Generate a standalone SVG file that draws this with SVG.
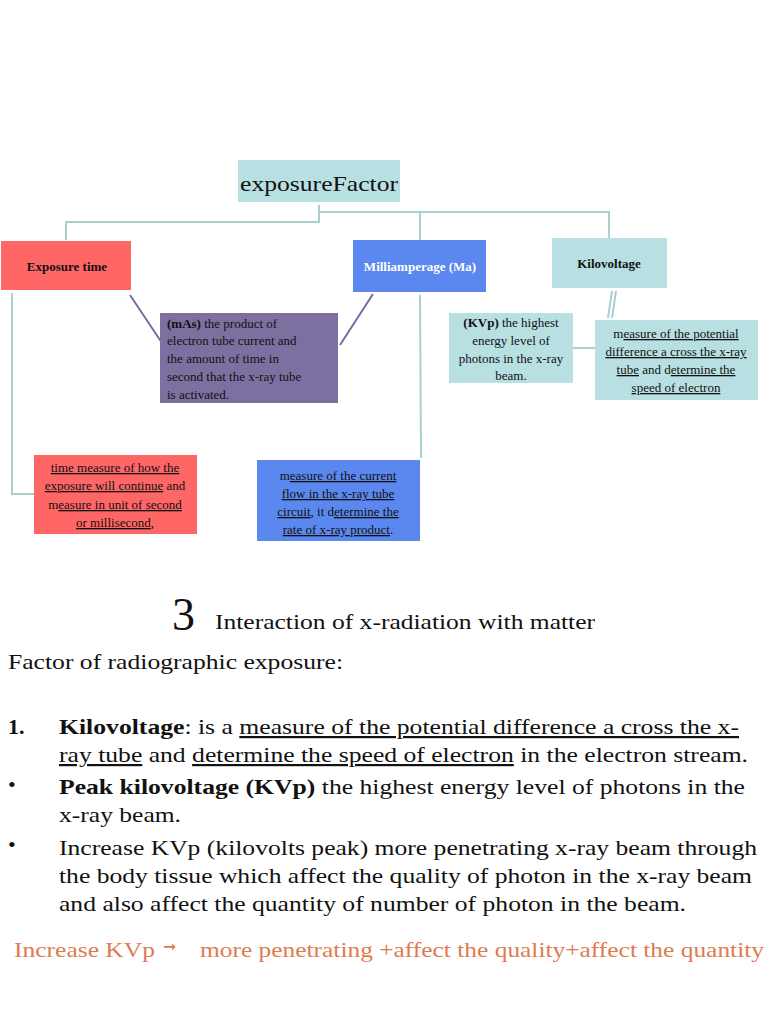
<svg xmlns="http://www.w3.org/2000/svg" width="768" height="1024" viewBox="0 0 768 1024">
<style>
text{font-family:"Liberation Serif","DejaVu Serif",serif;fill:#111}
.s{font-size:13px}
.b{font-weight:bold}
.u{text-decoration:underline}
.L{font-size:22px}
.c{fill:none;stroke:#a9cfd1;stroke-width:2}
.p{fill:none;stroke:#7a6aa0;stroke-width:2}
</style>
<rect width="768" height="1024" fill="#fff"/>
<g id="connectors">
<path class="c" d="M319 205V222H66V240M319 212H609V238M420 212V240"/>
<path class="c" d="M12 293V494H34"/>
<path class="c" d="M420 295L421 458"/>
<path class="c" d="M612 291L608 318M616 291L612 318"/>
<path class="c" d="M573 348H595"/>
<path class="p" d="M130 295L162 343M373 294L340 345"/>
</g>
<g id="root"><rect x="238" y="160" width="162" height="42" fill="#b8e0e2"/><text x="319" y="191" text-anchor="middle" font-size="22" textLength="158" lengthAdjust="spacingAndGlyphs">exposureFactor</text></g>
<g id="exposure-time"><rect x="1" y="241" width="130" height="49" fill="#ff6666"/><text x="67" y="271" class="s b" text-anchor="middle">Exposure  time</text></g>
<g id="milliamperage"><rect x="353" y="240" width="133" height="52" fill="#5b88ee"/><text x="420" y="271" class="s b" text-anchor="middle" style="fill:#fff">Milliamperage (Ma)</text></g>
<g id="kilovoltage"><rect x="552" y="238" width="115" height="50" fill="#b8e0e2"/><text x="609" y="268" class="s b" text-anchor="middle">Kilovoltage</text></g>
<g id="mas"><rect x="160" y="313" width="178" height="90" fill="#7d6fa0"/>
<text class="s" x="167" y="328"><tspan class="b">(mAs)</tspan> the product of</text>
<text class="s" x="167" y="345">electron tube current and</text>
<text class="s" x="167" y="363">the amount of time in</text>
<text class="s" x="167" y="381">second that the x-ray tube</text>
<text class="s" x="167" y="399">is activated.</text></g>
<g id="kvp"><rect x="449" y="313" width="124" height="70" fill="#b8e0e2"/>
<text class="s" x="511" y="327" text-anchor="middle"><tspan class="b">(KVp)</tspan> the highest</text>
<text class="s" x="511" y="345" text-anchor="middle">energy level of</text>
<text class="s" x="511" y="363" text-anchor="middle">photons in the x-ray</text>
<text class="s" x="511" y="380" text-anchor="middle">beam.</text></g>
<g id="kv-desc"><rect x="595" y="320" width="163" height="80" fill="#b8e0e2"/>
<text class="s" x="676" y="338" text-anchor="middle">m<tspan class="u">easure of the potential</tspan></text>
<text class="s u" x="676" y="356" text-anchor="middle">difference a cross the x-ray</text>
<text class="s" x="676" y="374" text-anchor="middle"><tspan class="u">tube</tspan> and d<tspan class="u">etermine the</tspan></text>
<text class="s u" x="676" y="392" text-anchor="middle">speed of electron</text></g>
<g id="time-desc"><rect x="34" y="455" width="163" height="79" fill="#ff6666"/>
<text class="s u" x="115" y="472" text-anchor="middle">time measure of how the</text>
<text class="s" x="115" y="490" text-anchor="middle"><tspan class="u">exposure will continue</tspan> and</text>
<text class="s" x="115" y="509" text-anchor="middle">m<tspan class="u">easure in unit of second</tspan></text>
<text class="s" x="115" y="527" text-anchor="middle"><tspan class="u">or millisecond</tspan>,</text></g>
<g id="ma-desc"><rect x="257" y="460" width="163" height="81" fill="#5b88ee"/>
<text class="s" x="338" y="480" text-anchor="middle">m<tspan class="u">easure of the current</tspan></text>
<text class="s u" x="338" y="498" text-anchor="middle">flow in the x-ray tube</text>
<text class="s" x="338" y="516" text-anchor="middle"><tspan class="u">circuit</tspan>, it d<tspan class="u">etermine the</tspan></text>
<text class="s" x="338" y="534" text-anchor="middle"><tspan class="u">rate of x-ray product</tspan>.</text></g>
<text x="172" y="630" font-size="46">3</text>
<text x="215" y="629" class="L" textLength="380" lengthAdjust="spacingAndGlyphs">Interaction of x-radiation with matter</text>
<text x="8" y="669" class="L" textLength="335" lengthAdjust="spacingAndGlyphs">Factor of radiographic exposure:</text>
<text x="8" y="734" class="L b">1.</text>
<text x="59" y="734" class="L" textLength="680" lengthAdjust="spacingAndGlyphs"><tspan class="b">Kilovoltage</tspan>: is a <tspan class="u">measure of the potential difference a cross the x-</tspan></text>
<text x="59" y="762" class="L" textLength="689" lengthAdjust="spacingAndGlyphs"><tspan class="u">ray tube</tspan> and <tspan class="u">determine the speed of electron</tspan> in the electron stream.</text>
<text x="8" y="792" class="L">•</text>
<text x="59" y="794" class="L" textLength="686" lengthAdjust="spacingAndGlyphs"><tspan class="b">Peak kilovoltage (KVp)</tspan> the highest energy level of photons in the</text>
<text x="59" y="822" class="L" textLength="122" lengthAdjust="spacingAndGlyphs">x-ray beam.</text>
<text x="8" y="852" class="L">•</text>
<text x="59" y="855" class="L" textLength="698" lengthAdjust="spacingAndGlyphs">Increase KVp (kilovolts peak) more penetrating x-ray beam through</text>
<text x="59" y="883" class="L" textLength="693" lengthAdjust="spacingAndGlyphs">the body tissue which affect the quality of photon in the x-ray beam</text>
<text x="59" y="911" class="L" textLength="627" lengthAdjust="spacingAndGlyphs">and also affect the quantity of number of photon in the beam.</text>
<text x="14" y="957" class="L" style="fill:#e07b50" textLength="141" lengthAdjust="spacingAndGlyphs">Increase KVp</text>
<text x="163" y="952" font-size="16" style="fill:#e07b50;font-family:'DejaVu Sans',sans-serif">➞</text>
<text x="200" y="957" class="L" style="fill:#e07b50" textLength="564" lengthAdjust="spacingAndGlyphs">more penetrating +affect the quality+affect the quantity</text>
</svg>
